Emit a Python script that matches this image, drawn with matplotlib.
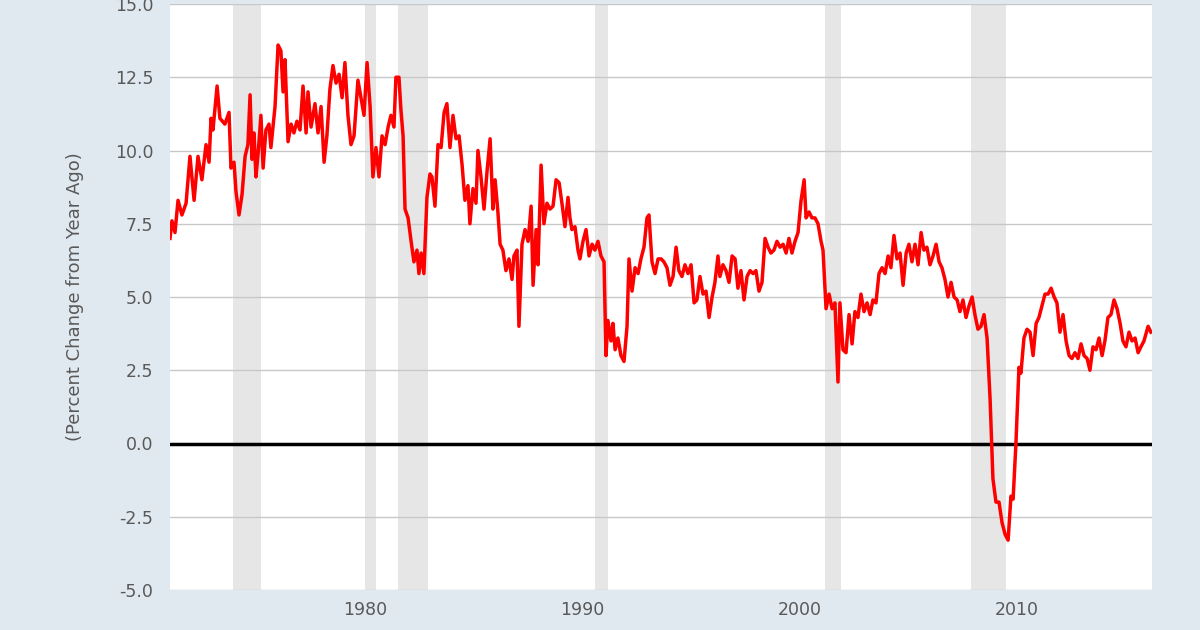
import matplotlib
matplotlib.use("Agg")
import matplotlib.pyplot as plt
import numpy as np

years = [1971.00,1971.09,1971.23,1971.37,1971.55,1971.74,1971.92,1972.11,1972.29,1972.47,1972.66,1972.80,1972.89,1972.98,
1973.17,1973.30,1973.53,1973.72,1973.81,1973.95,1974.04,1974.18,1974.32,1974.46,1974.59,1974.69,1974.78,1974.87,1974.96,
1975.06,1975.19,1975.29,1975.42,1975.56,1975.65,1975.84,1975.98,1976.11,1976.21,1976.30,1976.44,1976.58,1976.71,1976.85,
1976.99,1977.13,1977.27,1977.36,1977.50,1977.68,1977.82,1977.96,1978.10,1978.23,1978.37,1978.51,1978.65,1978.79,1978.93,
1979.06,1979.20,1979.34,1979.48,1979.66,1979.80,1979.94,1980.08,1980.22,1980.35,1980.49,1980.63,1980.77,1980.91,1981.05,
1981.18,1981.32,1981.41,1981.55,1981.64,1981.74,1981.83,1981.97,1982.11,1982.24,1982.38,1982.47,1982.57,1982.70,1982.84,
1982.98,1983.07,1983.21,1983.35,1983.49,1983.63,1983.76,1983.90,1984.04,1984.18,1984.32,1984.46,1984.59,1984.73,1984.82,
1984.96,1985.10,1985.19,1985.33,1985.47,1985.61,1985.75,1985.88,1985.98,1986.11,1986.21,1986.34,1986.48,1986.62,1986.76,
1986.85,1986.99,1987.08,1987.22,1987.36,1987.50,1987.64,1987.73,1987.87,1987.96,1988.10,1988.23,1988.37,1988.51,1988.65,
1988.79,1988.93,1989.06,1989.20,1989.34,1989.43,1989.52,1989.66,1989.80,1989.89,1990.03,1990.17,1990.31,1990.45,1990.58,
1990.72,1990.86,1991.00,1991.09,1991.18,1991.32,1991.41,1991.51,1991.64,1991.78,1991.92,1992.06,1992.15,1992.29,1992.43,
1992.57,1992.70,1992.84,1992.98,1993.07,1993.21,1993.35,1993.49,1993.63,1993.76,1993.90,1994.04,1994.18,1994.32,1994.45,
1994.59,1994.73,1994.87,1995.01,1995.15,1995.28,1995.42,1995.56,1995.70,1995.84,1995.98,1996.11,1996.25,1996.34,1996.48,
1996.62,1996.76,1996.90,1997.04,1997.17,1997.31,1997.45,1997.59,1997.73,1997.87,1998.00,1998.14,1998.28,1998.42,1998.56,
1998.69,1998.83,1998.97,1999.11,1999.25,1999.39,1999.52,1999.66,1999.80,1999.94,2000.08,2000.22,2000.31,2000.45,2000.58,
2000.72,2000.86,2001.00,2001.09,2001.23,2001.37,2001.51,2001.64,2001.78,2001.87,2002.01,2002.15,2002.29,2002.43,2002.56,
2002.70,2002.84,2002.98,2003.12,2003.26,2003.39,2003.53,2003.67,2003.81,2003.95,2004.09,2004.22,2004.36,2004.50,2004.64,
2004.78,2004.92,2005.05,2005.19,2005.33,2005.47,2005.61,2005.74,2005.88,2006.02,2006.16,2006.30,2006.44,2006.57,2006.71,
2006.85,2006.99,2007.13,2007.27,2007.40,2007.54,2007.68,2007.82,2007.96,2008.09,2008.23,2008.37,2008.51,2008.65,2008.79,
2008.92,2009.06,2009.20,2009.34,2009.48,2009.62,2009.75,2009.85,2009.98,2010.12,2010.21,2010.35,2010.49,2010.63,2010.77,
2010.91,2011.04,2011.18,2011.32,2011.46,2011.60,2011.74,2011.87,2012.01,2012.15,2012.29,2012.43,2012.56,2012.70,2012.84,
2012.98,2013.12,2013.26,2013.39,2013.53,2013.67,2013.81,2013.95,2014.08,2014.22,2014.36,2014.50,2014.64,2014.78,2014.91,
2015.05,2015.19,2015.33,2015.47,2015.61,2015.74,2015.88,2016.07,2016.20]

values = [7.0,7.6,7.2,8.3,7.8,8.2,9.8,8.3,9.8,9.0,10.2,9.6,11.1,10.7,
12.2,11.1,10.9,11.3,9.4,9.6,8.6,7.8,8.5,9.8,10.2,11.9,9.7,10.6,9.1,
9.9,11.2,9.4,10.7,10.9,10.1,11.5,13.6,13.4,12.0,13.1,10.3,10.9,10.6,11.0,
10.7,12.2,10.6,12.0,10.8,11.6,10.6,11.5,9.6,10.5,12.1,12.9,12.3,12.6,11.8,
13.0,11.2,10.2,10.5,12.4,11.8,11.2,13.0,11.5,9.1,10.1,9.1,10.5,10.2,10.8,
11.2,10.8,12.5,12.5,11.4,10.5,8.0,7.7,6.9,6.2,6.6,5.8,6.5,5.8,8.4,
9.2,9.1,8.1,10.2,10.1,11.3,11.6,10.1,11.2,10.4,10.5,9.5,8.3,8.8,7.5,
8.7,8.2,10.0,9.1,8.0,9.3,10.4,8.0,9.0,7.9,6.8,6.6,5.9,6.3,5.6,
6.4,6.6,4.0,6.8,7.3,6.9,8.1,5.4,7.3,6.1,9.5,7.5,8.2,8.0,8.1,
9.0,8.9,8.2,7.4,8.4,7.7,7.3,7.4,6.6,6.3,6.9,7.3,6.4,6.8,6.6,
6.9,6.4,6.2,3.0,4.2,3.5,4.1,3.2,3.6,3.0,2.8,4.0,6.3,5.2,6.0,
5.8,6.3,6.7,7.7,7.8,6.2,5.8,6.3,6.3,6.2,6.0,5.4,5.7,6.7,5.9,
5.7,6.1,5.8,6.1,4.8,4.9,5.7,5.1,5.2,4.3,5.0,5.5,6.4,5.7,6.1,
5.9,5.5,6.4,6.3,5.3,5.9,4.9,5.7,5.9,5.8,5.9,5.2,5.5,7.0,6.7,
6.5,6.6,6.9,6.7,6.8,6.5,7.0,6.5,6.9,7.2,8.3,9.0,7.7,7.9,7.7,
7.7,7.5,6.9,6.6,4.6,5.1,4.6,4.8,2.1,4.8,3.2,3.1,4.4,3.4,4.5,
4.3,5.1,4.5,4.8,4.4,4.9,4.8,5.8,6.0,5.8,6.4,6.0,7.1,6.3,6.5,
5.4,6.5,6.8,6.2,6.8,6.1,7.2,6.6,6.7,6.1,6.4,6.8,6.2,6.0,5.6,
5.0,5.5,5.0,4.9,4.5,4.9,4.3,4.7,5.0,4.4,3.9,4.0,4.4,3.6,1.5,
-1.2,-2.0,-2.0,-2.7,-3.1,-3.3,-1.8,-1.9,0.0,2.6,2.4,3.6,3.9,3.8,3.0,
4.1,4.3,4.7,5.1,5.1,5.3,5.0,4.8,3.8,4.4,3.5,3.0,2.9,3.1,2.9,
3.4,3.0,2.9,2.5,3.3,3.2,3.6,3.0,3.5,4.3,4.4,4.9,4.6,4.1,3.5,
3.3,3.8,3.5,3.6,3.1,3.3,3.5,4.0,3.8]

rec_start = [1973.9, 1980.0, 1981.5, 1990.6, 2001.2, 2007.9]
rec_end = [1975.2, 1980.5, 1982.9, 1991.2, 2001.9, 2009.5]

yticks = [-5.0, -2.5, 0.0, 2.5, 5.0, 7.5, 10.0, 12.5, 15.0]
xticks = [1980, 1990, 2000, 2010]

fig = plt.figure(figsize=(12, 6.3), dpi=100)
fig.patch.set_facecolor("#e1e9f0")
ax = fig.add_axes([170/1200, 40/630, 982/1200, 586/630])
ax.set_facecolor("white")
for s, e in zip(rec_start, rec_end):
    ax.axvspan(s, e, color="#e6e6e6", lw=0, zorder=0)
for t in yticks:
    ax.axhline(t, color="#c8c8c8", lw=1, zorder=1)
ax.axhline(0, color="black", lw=2.5, zorder=2)
ax.plot(years, values, color="#ff0000", lw=2.5, zorder=3)
ax.set_xlim(1971.0, 2016.25)
ax.set_ylim(-5, 15)
ax.set_yticks(yticks)
ax.set_yticklabels([f"{t:.1f}" for t in yticks])
ax.set_xticks(xticks)
for s in ax.spines.values():
    s.set_visible(False)
ax.tick_params(axis="both", length=0, labelsize=12.5, colors="#595959", pad=12)
ax.tick_params(axis="x", pad=8)
ax.set_ylabel("(Percent Change from Year Ago)", fontsize=13, color="#595959", labelpad=22)
fig.savefig("out.png", dpi=100, facecolor=fig.get_facecolor())
